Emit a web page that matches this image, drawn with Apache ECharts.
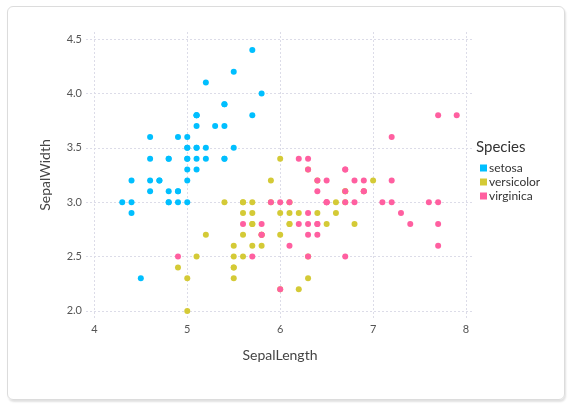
<!DOCTYPE html>
<html><head><meta charset="utf-8">
<script src="https://cdn.jsdelivr.net/npm/echarts@6/dist/echarts.min.js"></script>
<style>
html,body{margin:0;padding:0;background:#fff;}
#card{position:absolute;left:7px;top:6px;width:556px;height:392px;border:1px solid #dcdcdc;border-radius:6px;box-shadow:1px 2px 2px rgba(0,0,0,0.12);}
#chart{position:absolute;left:0;top:0;width:573px;height:409px;}
</style></head>
<body>
<div id="card"></div>
<div id="chart"></div>
<script>
const seriesNames = ['setosa', 'versicolor', 'virginica'];
const setosa = [[5.1,3.5],[4.9,3.0],[4.7,3.2],[4.6,3.1],[5.0,3.6],[5.4,3.9],[4.6,3.4],[5.0,3.4],[4.4,2.9],[4.9,3.1],[5.4,3.7],[4.8,3.4],[4.8,3.0],[4.3,3.0],[5.8,4.0],[5.7,4.4],[5.4,3.9],[5.1,3.5],[5.7,3.8],[5.1,3.8],[5.4,3.4],[5.1,3.7],[4.6,3.6],[5.1,3.3],[4.8,3.4],[5.0,3.0],[5.0,3.4],[5.2,3.5],[5.2,3.4],[4.7,3.2],[4.8,3.1],[5.4,3.4],[5.2,4.1],[5.5,4.2],[4.9,3.1],[5.0,3.2],[5.5,3.5],[4.9,3.6],[4.4,3.0],[5.1,3.4],[5.0,3.5],[4.5,2.3],[4.4,3.2],[5.0,3.5],[5.1,3.8],[4.8,3.0],[5.1,3.8],[4.6,3.2],[5.3,3.7],[5.0,3.3]];
const versicolor = [[7.0,3.2],[6.4,3.2],[6.9,3.1],[5.5,2.3],[6.5,2.8],[5.7,2.8],[6.3,3.3],[4.9,2.4],[6.6,2.9],[5.2,2.7],[5.0,2.0],[5.9,3.0],[6.0,2.2],[6.1,2.9],[5.6,2.9],[6.7,3.1],[5.6,3.0],[5.8,2.7],[6.2,2.2],[5.6,2.5],[5.9,3.2],[6.1,2.8],[6.3,2.5],[6.1,2.8],[6.4,2.9],[6.6,3.0],[6.8,2.8],[6.7,3.0],[6.0,2.9],[5.7,2.6],[5.5,2.4],[5.5,2.4],[5.8,2.7],[6.0,2.7],[5.4,3.0],[6.0,3.4],[6.7,3.1],[6.3,2.3],[5.6,3.0],[5.5,2.5],[5.5,2.6],[6.1,3.0],[5.8,2.6],[5.0,2.3],[5.6,2.7],[5.7,3.0],[5.7,2.9],[6.2,2.9],[5.1,2.5],[5.7,2.8]];
const virginica = [[6.3,3.3],[5.8,2.7],[7.1,3.0],[6.3,2.9],[6.5,3.0],[7.6,3.0],[4.9,2.5],[7.3,2.9],[6.7,2.5],[7.2,3.6],[6.5,3.2],[6.4,2.7],[6.8,3.0],[5.7,2.5],[5.8,2.8],[6.4,3.2],[6.5,3.0],[7.7,3.8],[7.7,2.6],[6.0,2.2],[6.9,3.2],[5.6,2.8],[7.7,2.8],[6.3,2.7],[6.7,3.3],[7.2,3.2],[6.2,2.8],[6.1,3.0],[6.4,2.8],[7.2,3.0],[7.4,2.8],[7.9,3.8],[6.4,2.8],[6.3,2.8],[6.1,2.6],[7.7,3.0],[6.3,3.4],[6.4,3.1],[6.0,3.0],[6.9,3.1],[6.7,3.1],[6.9,3.1],[5.8,2.7],[6.8,3.2],[6.7,3.3],[6.7,3.0],[6.3,2.5],[6.5,3.0],[6.2,3.4],[5.9,3.0]];
const xTicks = [4, 5, 6, 7, 8];
const yTicks = [2.0, 2.5, 3.0, 3.5, 4.0, 4.5];
const colors = ['#00bfff', '#d4ca36', '#ff5fa0'];

const font = 'Lato, "Open Sans", sans-serif';
const gridStyle = {type: [2, 2], color: '#dcdce8', width: 1};
const chart = echarts.init(document.getElementById('chart'), null, {renderer: 'canvas'});
const dataSets = [setosa, versicolor, virginica];
chart.setOption({
  animation: false,
  textStyle: {fontFamily: font},
  grid: {left: 86, right: 99, top: 32, bottom: 91, containLabel: false},
  xAxis: {
    type: 'value', min: 3.91, max: 8.086,
    name: 'SepalLength', nameLocation: 'middle', nameGap: 30, nameMoveOverlap: false,
    nameTextStyle: {fontSize: 14, color: '#444', fontFamily: font},
    axisLine: {show: false}, axisTick: {show: false}, splitLine: {show: false},
    axisLabel: {customValues: xTicks, margin: 6, fontSize: 11, color: '#555', fontFamily: font}
  },
  yAxis: {
    type: 'value', min: 1.935, max: 4.565,
    name: 'SepalWidth', nameLocation: 'middle', nameGap: 34, nameRotate: 90, nameMoveOverlap: false,
    nameTextStyle: {fontSize: 14, color: '#444', fontFamily: font},
    axisLine: {show: false}, axisTick: {show: false}, splitLine: {show: false},
    axisLabel: {customValues: yTicks, margin: 4, fontSize: 11, color: '#555', fontFamily: font,
      formatter: v => v.toFixed(1)}
  },
  legend: {
    data: seriesNames, orient: 'vertical', left: 475, top: 157,
    itemWidth: 7, itemHeight: 7, itemGap: 2, icon: 'rect',
    textStyle: {fontSize: 12, color: '#333', fontFamily: font, padding: [0,0,0,-3]},
    selectedMode: false
  },
  graphic: [{type: 'text', left: 476, top: 140, style: {text: 'Species', fontSize: 15, fill: '#333', fontFamily: font}}],
  series: [{
    type: 'scatter', data: [], silent: true, z: 1,
    markLine: {
      silent: true, z: 1, symbol: 'none', label: {show: false}, lineStyle: gridStyle,
      data: xTicks.map(v => ({xAxis: v})).concat(yTicks.map(v => ({yAxis: v})))
    }
  }].concat(seriesNames.map((n, i) => ({
    name: n, type: 'scatter', data: dataSets[i], symbolSize: 6, z: 3,
    itemStyle: {color: colors[i], opacity: 1}
  })))
});
</script>
</body></html>
